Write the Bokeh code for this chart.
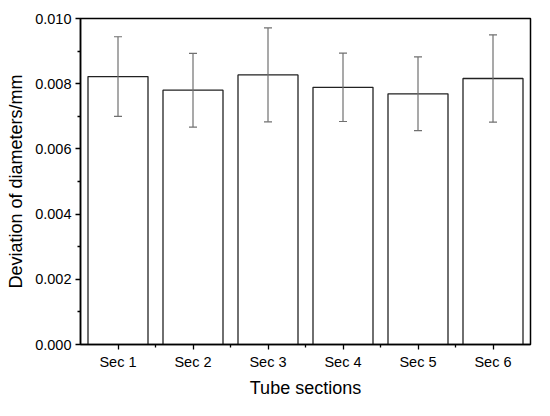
from bokeh.plotting import figure
from bokeh.models import ColumnDataSource, Whisker, TeeHead, FixedTicker, NumeralTickFormatter, Range1d
from bokeh.embed import file_html
from bokeh.resources import INLINE

# bar chart data
sections = ["Sec 1", "Sec 2", "Sec 3", "Sec 4", "Sec 5", "Sec 6"]
positions = [1, 2, 3, 4, 5, 6]
means = [0.00822, 0.00780, 0.00827, 0.00789, 0.00769, 0.00816]
errors = [0.00122, 0.00113, 0.00144, 0.00105, 0.00113, 0.00134]

upper = [m + e for m, e in zip(means, errors)]
lower = [m - e for m, e in zip(means, errors)]
src = ColumnDataSource(data=dict(x=positions, top=means, upper=upper, lower=lower))

p = figure(width=534, height=400, output_backend="svg", toolbar_location=None,
           x_range=Range1d(0.5, 6.5), y_range=Range1d(0, 0.010),
           min_border_left=80, min_border_right=4, min_border_top=18, min_border_bottom=52)

p.vbar(x="x", top="top", width=0.8, bottom=0, source=src,
       fill_color="white", line_color="#222222", line_width=1.3)

w = Whisker(base="x", upper="upper", lower="lower", source=src, level="overlay",
            line_color="#707070", line_width=1.2,
            upper_head=TeeHead(size=8, line_color="#707070", line_width=1.2),
            lower_head=TeeHead(size=8, line_color="#707070", line_width=1.2))
p.add_layout(w)

p.xgrid.visible = False
p.ygrid.visible = False
p.outline_line_color = "black"
p.outline_line_width = 1.5
p.background_fill_color = "white"
p.border_fill_color = "white"

p.xaxis.ticker = FixedTicker(ticks=positions, minor_ticks=[1.5, 2.5, 3.5, 4.5, 5.5])
p.xaxis.major_label_overrides = {pos: s for pos, s in zip(positions, sections)}
p.xaxis.axis_label = "Tube sections"

p.yaxis.ticker = FixedTicker(ticks=[0, 0.002, 0.004, 0.006, 0.008, 0.010],
                             minor_ticks=[0.001, 0.003, 0.005, 0.007, 0.009])
p.yaxis.formatter = NumeralTickFormatter(format="0.000")
p.yaxis.axis_label = "Deviation of diameters/mm"

for ax in (p.xaxis[0], p.yaxis[0]):
    ax.axis_line_color = "black"
    ax.axis_line_width = 1.5
    ax.major_tick_in = 0
    ax.major_tick_out = 5
    ax.minor_tick_in = 0
    ax.minor_tick_out = 3
    ax.major_tick_line_color = "black"
    ax.minor_tick_line_color = "black"
    ax.major_tick_line_width = 1.3
    ax.minor_tick_line_width = 1.3
    ax.major_label_text_font = "Liberation Sans"
    ax.major_label_text_font_size = "14.5px"
    ax.major_label_text_color = "black"
    ax.axis_label_text_font = "Liberation Sans"
    ax.axis_label_text_font_size = "18px"
    ax.axis_label_text_font_style = "normal"
    ax.axis_label_text_color = "black"

p.xaxis.major_label_standoff = 4
p.xaxis.axis_label_standoff = 5
p.yaxis.major_label_standoff = 4
p.yaxis.axis_label_standoff = 6

open("out.html", "w").write(file_html(p, INLINE))
